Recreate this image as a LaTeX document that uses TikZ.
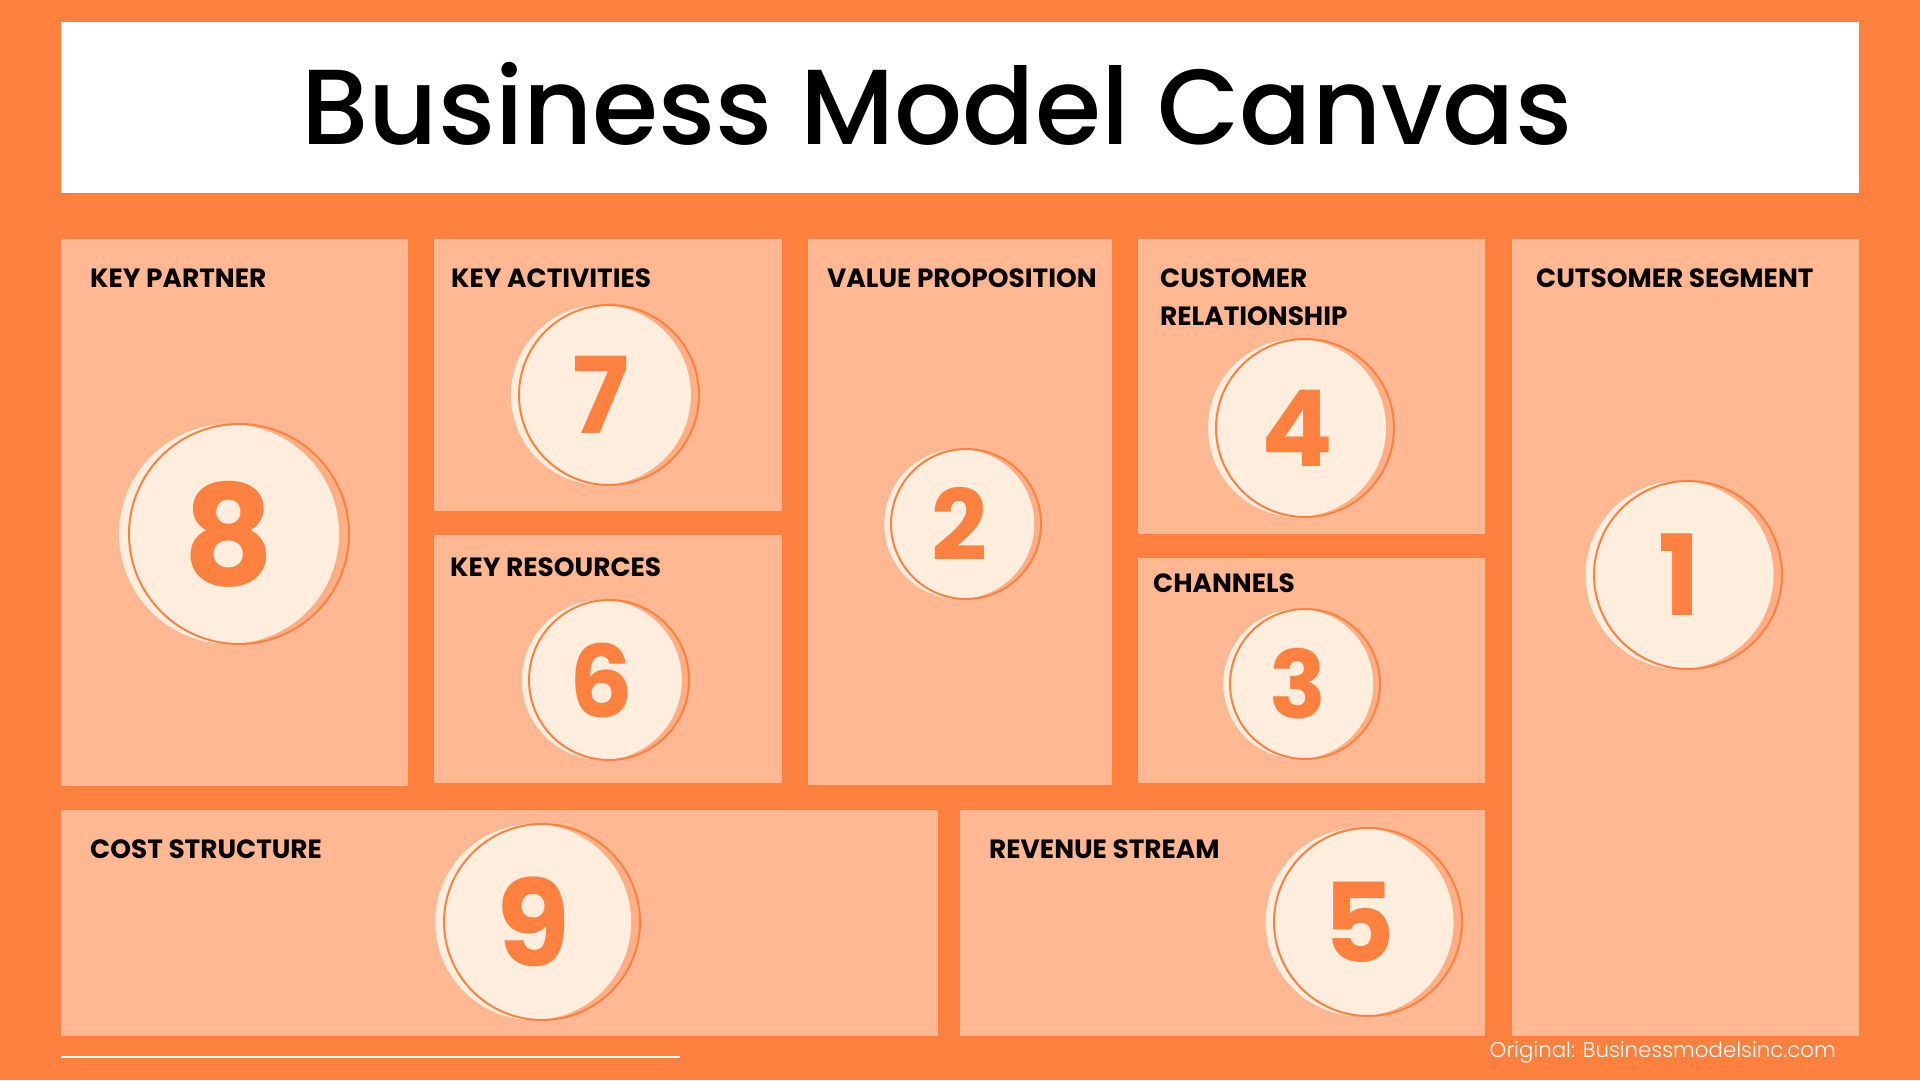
\documentclass[tikz,border=0pt]{standalone}
\usepackage{fontspec}
\setmainfont{Poppins}
\newfontfamily\popmed{Poppins Medium}
\newfontfamily\poplight{Poppins Light}
\usetikzlibrary{calc}
\definecolor{bgorange}{HTML}{FF8140}
\definecolor{peach}{HTML}{FFB891}
\definecolor{cream}{HTML}{FFEEDE}
\definecolor{shadowpeach}{HTML}{FFAF85}
\tikzset{
  box/.style={rectangle, fill=peach, draw=none, inner sep=0pt, anchor=north west},
  hdr/.style={anchor=base west, inner sep=0pt, text=black, font=\fontsize{26.4}{26.4}\selectfont\bfseries},
  shadowc/.style={circle, fill=shadowpeach, draw=none, inner sep=0pt},
  creamc/.style={circle, fill=cream, draw=none, inner sep=0pt},
  ringc/.style={circle, draw=bgorange, line width=2pt, fill=none, inner sep=0pt},
  digit/.style={inner sep=0pt, text=bgorange},
}
\newcommand\bmcnum[5]{%
  \node[shadowc, minimum size=2*#3] (#1s) at (#2) {};
  \node[creamc, minimum size=2*#3] (#1c) at ($(#2)+(-0.09*#3,0)$) {};
  \node[ringc, minimum size=2*#3] (#1r) at (#2) {};
  \node[digit, font=\fontsize{#5}{#5}\selectfont\bfseries] (#1n) at (#1c) {#4};
}
\begin{document}
\begin{tikzpicture}[x=1pt,y=-1pt]
\fill[bgorange] (0,0) rectangle (1920,1080);
\useasboundingbox (0,0) rectangle (1920,1080);
% title
\node[box, fill=white, minimum width=1798, minimum height=171] (titlebox) at (61,22) {};
\node[anchor=base, inner sep=0pt, font=\fontsize{106.8}{106.8}\selectfont\popmed] (title) at (937,144) {Business Model Canvas};
% boxes
\node[box, minimum width=347, minimum height=547] (kp) at (61,239) {};
\node[box, minimum width=348, minimum height=272] (ka) at (434,239) {};
\node[box, minimum width=348, minimum height=248] (kr) at (434,535) {};
\node[box, minimum width=304, minimum height=546] (vp) at (808,239) {};
\node[box, minimum width=347, minimum height=295] (cr) at (1138,239) {};
\node[box, minimum width=347, minimum height=225] (ch) at (1138,558) {};
\node[box, minimum width=347, minimum height=797] (cs) at (1512,239) {};
\node[box, minimum width=877, minimum height=226] (cost) at (61,810) {};
\node[box, minimum width=525, minimum height=226] (rev) at (960,810) {};
% headers
\node[hdr] (kph) at (90,287) {KEY PARTNER};
\node[hdr] (kah) at (451,287) {KEY ACTIVITIES};
\node[hdr] (vph) at (827,287) {VALUE PROPOSITION};
\node[hdr] (crh1) at (1160,287) {CUSTOMER};
\node[hdr] (crh2) at (1160,325) {RELATIONSHIP};
\node[hdr] (csh) at (1536,287) {CUTSOMER SEGMENT};
\node[hdr] (krh) at (450,576) {KEY RESOURCES};
\node[hdr] (chh) at (1153,592) {CHANNELS};
\node[hdr] (costh) at (90,858) {COST STRUCTURE};
\node[hdr] (revh) at (989,858) {REVENUE STREAM};
% numbered circles
\bmcnum{c8}{239,534}{110}{8}{140}
\bmcnum{c7}{609,395}{90}{7}{106}
\bmcnum{c6}{609,680}{80}{6}{100}
\bmcnum{c2}{966,524}{75}{2}{98}
\bmcnum{c4}{1305,428}{89}{4}{106}
\bmcnum{c3}{1305,684}{75}{3}{94}
\bmcnum{c1}{1688,575}{94}{1}{112}
\bmcnum{c9}{542,922}{98}{9}{120}
\bmcnum{c5}{1368,922}{94}{5}{110}
% footer
\coordinate (lineA) at (61,1057);
\coordinate (lineB) at (680,1057);
\draw[white, line width=2pt] (lineA) -- (lineB);
\node[anchor=base east, inner sep=0pt, text=white, font=\fontsize{21.3}{21.3}\selectfont\poplight] (footer) at (1836,1057) {Original: Businessmodelsinc.com};
\end{tikzpicture}
\end{document}
